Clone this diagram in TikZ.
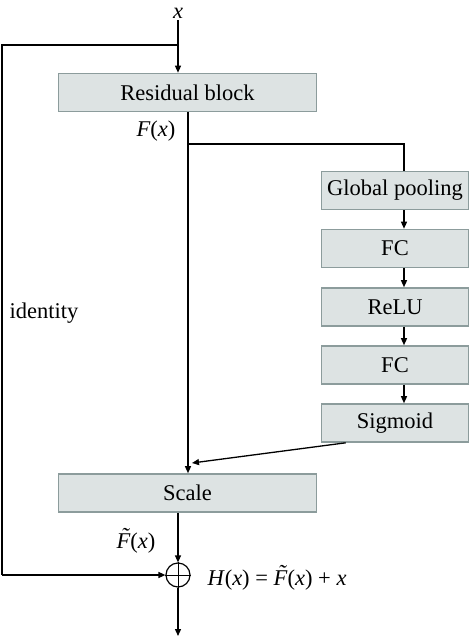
\documentclass[tikz,border=0pt]{standalone}
\usepackage{fontspec}
\setmainfont{Liberation Serif}
\usetikzlibrary{arrows.meta}
\definecolor{boxfill}{HTML}{DDE3E3}
\definecolor{boxline}{HTML}{8C9C9C}
\newcommand{\tildeF}{\textit{\rlap{\hspace{0.2em}\raisebox{0.2em}{\char"02DC}}F}}
\begin{document}
\begin{tikzpicture}[x=1pt,y=-1pt,
  blk/.style={draw=boxline,line width=1.6pt,fill=boxfill,minimum height=38pt,inner sep=0pt,font=\fontsize{22.5}{26}\selectfont},
  wide/.style={blk,minimum width=258pt},
  side/.style={blk,minimum width=147pt},
  conn/.style={line width=1.3pt,black},
  arr/.style={conn,-{Triangle[length=7pt,width=6pt]}},
  lbl/.style={font=\fontsize{22.5}{26}\selectfont,inner sep=0pt}]
\useasboundingbox (0,0) rectangle (474,638);
\node[lbl] (xin) at (178,13) {\textit{x}};
\node[wide] (res) at (187.5,92.5) {Residual block};
\node[lbl] (fx) at (156,131) {\textit{F}(\textit{x})};
\node[side] (gp) at (395,190.5) {Global pooling};
\node[side] (fc1) at (395,248.5) {FC};
\node[side] (relu) at (395,307) {ReLU};
\node[side] (fc2) at (395,365) {FC};
\node[side] (sig) at (395,423) {Sigmoid};
\node[wide] (scale) at (187.5,493) {Scale};
\node[lbl] (ftx) at (136,541) {\tildeF(\textit{x})};
\node[draw,circle,line width=1.2pt,minimum size=24pt,inner sep=0pt] (plus) at (178,575) {};
\draw[line width=1pt] (plus.north) -- (plus.south) (plus.west) -- (plus.east);
\node[lbl] (hx) at (277,578) {\textit{H}(\textit{x}) = \tildeF(\textit{x}) + \textit{x}};
\node[lbl] (id) at (44,313) {identity};
\coordinate (split) at (178,45);
\coordinate (leftTop) at (2,45);
\coordinate (leftBot) at (2,575);
\coordinate (branch) at (188,144);
\coordinate (branchR) at (404,144);
\coordinate (out) at (178,636);
% connectors
\draw[arr] ([yshift=-2pt]xin.south) -- (res.north -| xin);
\draw[conn] (split) -- (leftTop) -- (leftBot);
\draw[arr] (leftBot) -- (plus.west);
\draw[arr] (res.south -| branch) -- (scale.north -| branch);
\draw[conn] (branch) -- (branchR) -- (gp.north -| branchR);
\draw[arr] (gp.south -| branchR) -- (fc1.north -| branchR);
\draw[arr] (fc1.south -| branchR) -- (relu.north -| branchR);
\draw[arr] (relu.south -| branchR) -- (fc2.north -| branchR);
\draw[arr] (fc2.south -| branchR) -- (sig.north -| branchR);
\draw[arr] ([xshift=25pt]sig.south west) -- (192,463);
\draw[arr] (scale.south -| plus) -- (plus.north);
\draw[arr] (plus.south) -- (out);
\end{tikzpicture}
\end{document}
